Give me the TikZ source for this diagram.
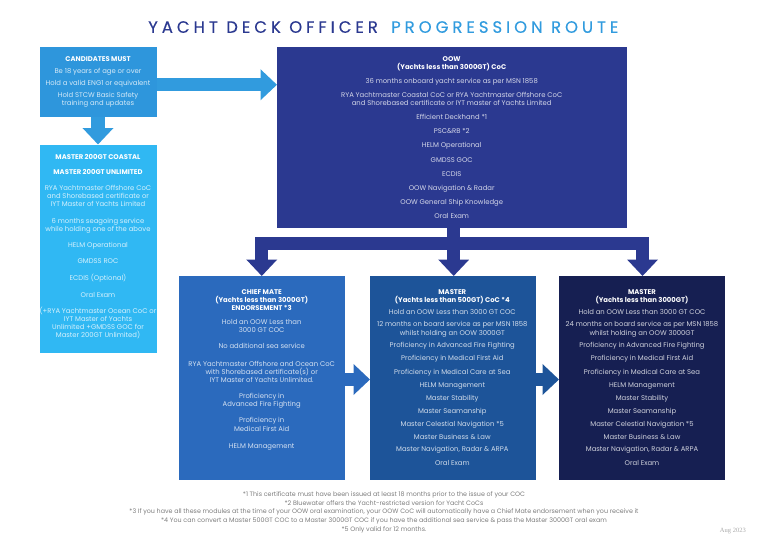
\documentclass[tikz,border=0pt]{standalone}
\usepackage{fontspec}
\setmainfont{Poppins}
\newfontfamily\titlefont[LetterSpace=24,FakeBold=0.25]{Poppins}
\newfontfamily\stampfont{Liberation Serif}
\usetikzlibrary{arrows.meta,calc}
\definecolor{cCand}{HTML}{2E96DC}
\definecolor{cCoast}{HTML}{30B8F3}
\definecolor{cOow}{HTML}{2B3990}
\definecolor{cChief}{HTML}{2B6ABD}
\definecolor{cMast}{HTML}{1D5499}
\definecolor{cTop}{HTML}{161F52}
\definecolor{cArrow}{HTML}{319BDE}
\definecolor{cFoot}{HTML}{7D7D7D}
\definecolor{cStamp}{HTML}{A8A8A8}
\tikzset{
  box/.style={anchor=north west,inner sep=0pt,outer sep=0pt},
  body/.style={inner sep=0pt,yshift=-.7pt,text height=5pt,text depth=1.4pt,text=white,text opacity=.8,font=\fontsize{6.85}{8}\selectfont},
  head/.style={inner sep=0pt,yshift=-.7pt,text height=5pt,text depth=1.4pt,text=white,font=\fontsize{6.85}{8}\selectfont\bfseries},
  foot/.style={inner sep=0pt,yshift=-.7pt,text height=5pt,text depth=1.4pt,text=cFoot,font=\fontsize{6.35}{8}\selectfont},
  blockarrow/.style={draw=#1,line width=13.4pt,-{Triangle[width=30pt,length=16.5pt,fill=#1,color=#1]}},
  blockbar/.style={draw=#1,line width=13.4pt,miter limit=10}
}
\newcount\labno
\newcommand{\lab}[4]{\global\advance\labno by 1 \node[#1] (lab\the\labno) at (#2,#3) {#4};}
\newcommand{\labels}[3]{\foreach \yy/\tt in {#3} {\lab{#1}{#2}{\yy}{\tt}}}
\begin{document}
\begin{tikzpicture}[x=1pt,y=-1pt]
\useasboundingbox (0,0) rectangle (768,543);
% boxes
\node[box,fill=cCand,minimum width=117pt,minimum height=69.5pt] (cand) at (39.5,47.5) {};
\node[box,fill=cCoast,minimum width=117pt,minimum height=208.5pt] (coast) at (39.5,144.5) {};
\node[box,fill=cOow,minimum width=350pt,minimum height=180pt] (oow) at (277,47.5) {};
\node[box,fill=cChief,minimum width=165.5pt,minimum height=204pt] (chief) at (179,276) {};
\node[box,fill=cMast,minimum width=165.5pt,minimum height=204pt] (mast) at (370,276) {};
\node[box,fill=cTop,minimum width=165.5pt,minimum height=204pt] (top) at (559,276) {};
\coordinate (hub) at (453.7,243.75);
% connectors
\draw[blockarrow=cArrow] ([yshift=-2.5pt]cand.east) -- ([yshift=-2.5pt]cand.east -| oow.west);
\draw[blockarrow=cArrow] (cand.south) -- (coast.north);
\draw[blockbar=cOow] (oow.south -| hub) -- (hub);
\draw[blockarrow=cOow] (hub) -| (chief.north);
\draw[blockarrow=cOow] (hub) -- (hub |- mast.north);
\draw[blockarrow=cOow] (hub) -| ([xshift=.8pt]top.north);
\draw[blockarrow=cChief] ([yshift=-1.5pt]chief.east) -- ([yshift=-1.5pt]chief.east -| mast.west);
\draw[blockarrow=cMast] ([yshift=-1.5pt]mast.east) -- ([yshift=-1.5pt]mast.east -| top.west);
% title
\node[inner sep=0pt,anchor=base west,text=cOow,font=\fontsize{16.5}{18}\selectfont\titlefont] (title1) at (148,32.8) {YACHT DECK OFFICER};
\node[inner sep=0pt,anchor=base west,text=cArrow,font=\fontsize{16.5}{18}\selectfont\titlefont] (title2) at (391,32.8) {PROGRESSION ROUTE};
% candidates
\lab{head}{98}{59}{CANDIDATES MUST}
\labels{body}{98}{71.5/Be 18 years of age or over,82.5/Hold a valid ENG1 or equivalent,94.5/Hold STCW Basic Safety,102.7/training and updates}
% coastal
\lab{head}{98}{157.3}{MASTER 200GT COASTAL}
\lab{head}{98}{172.3}{MASTER 200GT UNLIMITED}
\labels{body}{98}{187.7/RYA Yachtmaster Offshore CoC,195.7/and Shorebased certificate or,203.7/IYT Master of Yachts Limited,221/6 months seagoing service,229/while holding one of the above,245/HELM Operational,261/GMDSS ROC,277.7/ECDIS (Optional),294.7/Oral Exam,311/(+RYA Yachtmaster Ocean CoC or,319.3/IYT Master of Yachts,327.3/Unlimited +GMDSS GOC for,335.3/Master 200GT Unlimited)}
% OOW
\lab{head}{451.7}{59.3}{OOW}
\lab{head}{451.7}{67.3}{(Yachts less than 3000GT) CoC}
\labels{body}{451.7}{80.7/36 months onboard yacht service as per MSN 1858,94.7/RYA Yachtmaster Coastal CoC or RYA Yachtmaster Offshore CoC,102.7/and Shorebased certificate or IYT master of Yachts Limited,116.7/Efficient Deckhand *1,131/PSC\&RB *2,145.3/HELM Operational,159.5/GMDSS GOC,173.7/ECDIS,187.7/OOW Navigation \& Radar,201.7/OOW General Ship Knowledge,216/Oral Exam}
% chief
\lab{head}{261.7}{291.7}{CHIEF MATE}
\lab{head}{261.7}{299.7}{(Yachts less than 3000GT)}
\lab{head}{261.7}{308}{ENDORSEMENT *3}
\labels{body}{261.7}{322.3/Hold an OOW Less than,330.3/3000 GT COC,346.3/No additional sea service,363.7/RYA Yachtmaster Offshore and Ocean CoC,371.7/with Shorebased certificate(s) or,379.7/IYT Master of Yachts Unlimited.,396/Proficiency in,404/Advanced Fire Fighting,420/Proficiency in,429.3/Medical First Aid,445.7/HELM Management}
% master 500
\lab{head}{452.3}{291.7}{MASTER}
\lab{head}{452.3}{299.7}{(Yachts less than 500GT) CoC *4}
\labels{body}{452.3}{312/Hold an OOW Less than 3000 GT COC,324.3/12 months on board service as per MSN 1858,333.3/whilst holding an OOW 3000GT,345.3/Proficiency in Advanced Fire Fighting,358.3/Proficiency in Medical First Aid,371.7/Proficiency in Medical Care at Sea,384.7/HELM Management,398/Master Stability,411/Master Seamanship,424.3/Master Celestial Navigation *5,436.7/Master Business \& Law,449.3/Master Navigation{,} Radar \& ARPA,462.7/Oral Exam}
% master 3000
\lab{head}{642}{291.7}{MASTER}
\lab{head}{642}{299.7}{(Yachts less than 3000GT)}
\labels{body}{642}{312/Hold an OOW Less than 3000 GT COC,324.3/24 months on board service as per MSN 1858,333.3/whilst holding an OOW 3000GT,345.3/Proficiency in Advanced Fire Fighting,358.3/Proficiency in Medical First Aid,371.7/Proficiency in Medical Care at Sea,384.7/HELM Management,398/Master Stability,411/Master Seamanship,424.3/Master Celestial Navigation *5,436.7/Master Business \& Law,449.3/Master Navigation{,} Radar \& ARPA,462.7/Oral Exam}
% footnotes
\lab{foot}{384}{494.3}{*1 This certificate must have been issued at least 18 months prior to the issue of your COC}
\lab{foot}{384}{503}{*2 Bluewater offers the Yacht-restricted version for Yacht CoCs}
\lab{foot}{384}{511.3}{*3 If you have all these modules at the time of your OOW oral examination, your OOW CoC will automatically have a Chief Mate endorsement when you receive it}
\lab{foot}{384}{520.3}{*4 You can convert a Master 500GT COC to a Master 3000GT COC if you have the additional sea service \& pass the Master 3000GT oral exam}
\lab{foot}{384}{528.7}{*5 Only valid for 12 months.}
\node[inner sep=0pt,anchor=east,text=cStamp,font=\fontsize{6.5}{8}\selectfont\stampfont] (stamp) at (746,531.5) {Aug 2023};
\end{tikzpicture}
\end{document}
